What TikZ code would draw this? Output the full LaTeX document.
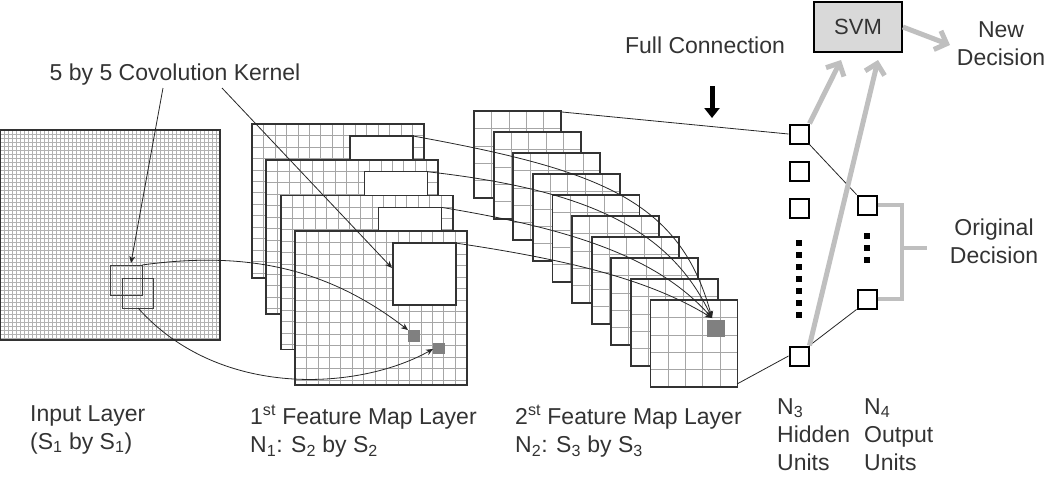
\documentclass[tikz,border=0pt]{standalone}
\usepackage{fontspec}
\setmainfont{Liberation Sans}
\usetikzlibrary{arrows.meta}
\newcommand{\mygrid}[4]{% width height step 2*step
  \foreach \gx in {#3,#4,...,#1}{\draw[grd] (\gx,0) -- (\gx,#2);}
  \foreach \gy in {#3,#4,...,#2}{\draw[grd] (0,\gy) -- (#1,\gy);}}
\begin{document}
\begin{tikzpicture}[x=1pt,y=-1pt,
  lab/.style={font=\fontsize{23}{28}\selectfont,text=black!80,align=left,inner sep=0pt},
  mapb/.style={draw=black!80,line width=1.8pt},
  grd/.style={draw=black!35,line width=0.6pt},
  unit/.style={draw=black,line width=2pt,fill=white,minimum size=19pt,inner sep=0pt},
  conn/.style={draw=black!85,line width=0.8pt},
  carr/.style={conn,->,>={Stealth[length=7pt,width=6pt]}},
  garr/.style={draw=black!25,line width=5pt,->,>={Straight Barb[length=10pt,width=20pt]}}]
\useasboundingbox (0,0) rectangle (1048,480);
% input layer
\fill[white] (0,130) rectangle (220,340);
\begin{scope}[shift={(0,130)},grd/.style={draw=black!30,line width=0.45pt}]
\mygrid{220}{210}{4}{8}
\end{scope}
\draw[mapb,line width=1.4pt] (0,130) rectangle (220,340);
\draw[black!75,line width=1pt] (110,265) rectangle (142,295);
\draw[black!75,line width=1pt] (122,278) rectangle (153,308);
\coordinate (k1) at (142,265);
\coordinate (k2) at (138,308);
% first feature maps
\foreach \i in {0,...,3}{
  \pgfmathsetmacro{\xa}{252+14.3*\i}
  \pgfmathsetmacro{\ya}{124+35.7*\i}
  \begin{scope}[shift={(\xa,\ya)}]
    \fill[white] (0,0) rectangle (172,154);
    \mygrid{172}{154}{11.45}{22.9}
    \draw[mapb] (0,0) rectangle (172,154);
    \fill[white] (98,12) rectangle (161,74);
    \draw[mapb,line width=1.5pt] (98,12) rectangle (161,74);
    \coordinate (in\i) at (161,12);
  \end{scope}}
\fill[black!50] (408,330) rectangle (420,342);
\fill[black!50] (433,343) rectangle (445,354);
% second feature maps
\foreach \i in {0,...,9}{
  \pgfmathsetmacro{\xa}{474+19.6*\i}
  \pgfmathsetmacro{\ya}{111+21*\i}
  \begin{scope}[shift={(\xa,\ya)}]
    \fill[white] (0,0) rectangle (87,87);
    \mygrid{87}{87}{17.4}{34.8}
    \draw[mapb] (0,0) rectangle (87,87);
  \end{scope}}
\fill[black!50] (707,320) rectangle (725,337);
\coordinate (m2tr) at (562,112);
\coordinate (m2br) at (737,384);
\coordinate (tgt) at (712,318);
% kernel label
\node[lab] (kl) at (175,75) {5 by 5 Covolution Kernel};
\draw[carr] (163,88) -- (131,263);
\draw[carr] (222,88) -- (392,268);
% input to first map curves
\draw[carr] (k1) .. controls (250,250) and (330,270) .. (408,330);
\draw[carr] (k2) .. controls (220,400) and (360,390) .. (433,349);
% first map to second map curves
\draw[carr] (in0) .. controls (600,170) and (680,200) .. (tgt);
\draw[carr] (in1) .. controls (590,190) and (670,230) .. (tgt);
\draw[carr] (in2) .. controls (580,230) and (660,260) .. (tgt);
\draw[carr] (in3) .. controls (570,260) and (650,280) .. (tgt);
% units
\node[unit] (h1) at (799,134) {};
\node[unit] (h2) at (799,171) {};
\node[unit] (h3) at (799,208) {};
\node[unit] (hn) at (799,356) {};
\foreach \y in {240,252,264,276,288,300,312}{\fill (796,\y) rectangle (802,\y+6);}
\node[unit] (o1) at (867,205) {};
\node[unit] (on) at (867,299) {};
\foreach \y in {233,245,257}{\fill (864,\y) rectangle (870,\y+6);}
\draw[conn] (m2tr) -- (h1.west);
\draw[conn] (m2br) -- (hn.west);
\draw[conn] (h1.south east) -- (o1.north west);
\draw[conn] (hn.north east) -- (on.south west);
% SVM
\node[draw=black,line width=1.8pt,fill=black!15,minimum width=88pt,minimum height=50pt,font=\fontsize{22}{26}\selectfont,text=black!80] (svm) at (858,27) {SVM};
\draw[garr] (h1.north east) -- (841,60);
\draw[garr] (hn.north east) -- (878,60);
\draw[garr] (svm.east) -- (950,45);
\draw[draw=black!25,line width=4.5pt] (on.east) -- (902,299) -- (902,205) -- (o1.east);
\draw[draw=black!25,line width=4.5pt] (902,248) -- (927,248);
% full connection
\node[lab] (fc) at (705,45) {Full Connection};
\draw[line width=5pt,-{Triangle[length=10pt,width=15pt]}] (712,86) -- (712,118);
% texts
\node[lab,align=center] (nd) at (1001,44) {New\\Decision};
\node[lab,align=center] (od) at (994,241) {Original\\Decision};
\node[lab,anchor=north west] (il) at (30,405) {Input Layer\\(S\textsubscript{1} by S\textsubscript{1})};
\node[lab,anchor=north west] (f1) at (250,405) {1\textsuperscript{st} Feature Map Layer\\N\textsubscript{1}: S\textsubscript{2} by S\textsubscript{2}};
\node[lab,anchor=north west] (f2) at (515,405) {2\textsuperscript{st} Feature Map Layer\\N\textsubscript{2}: S\textsubscript{3} by S\textsubscript{3}};
\node[lab,anchor=north west,align=left] (hu) at (777,398) {N\textsubscript{3}\\Hidden\\Units};
\node[lab,anchor=north west,align=left] (ou) at (864,398) {N\textsubscript{4}\\Output\\Units};
\end{tikzpicture}
\end{document}
